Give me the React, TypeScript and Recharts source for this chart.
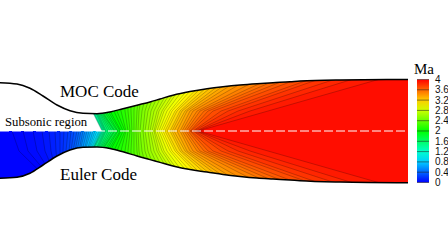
import { Area, ComposedChart, Line, XAxis, YAxis } from "recharts";

// wall profile, radius measured from the centerline
const wallX = [0, 17, 30, 43, 57, 70, 83, 97, 110, 123, 137, 150, 160, 173, 190, 207, 223, 240, 257, 273, 290, 300, 340, 408];
const upperWallR = [48.3, 47, 42.7, 35, 26, 20.3, 17.7, 17.3, 19, 22.3, 25.8, 29, 32, 35.8, 39.5, 42.3, 44.3, 46, 47.3, 48.3, 49.2, 50, 51, 51.5];
const lowerWallR = [47.3, 46.3, 42.3, 34, 25, 19, 16.3, 16, 17.5, 20.8, 25, 28.6, 31.4, 35, 38.6, 41, 43.4, 45.4, 47, 48, 49, 49.7, 51, 51.7];

// supersonic Mach contours: x on the axis, x at radius 20, x at radius 60
const fanLevels = [1.35, 1.4, 1.45, 1.5, 1.55, 1.6, 1.65, 1.7, 1.75, 1.8, 1.85, 1.9, 1.95, 2, 2.05, 2.1, 2.15, 2.2, 2.25, 2.3, 2.35, 2.4, 2.45, 2.5, 2.55, 2.6, 2.65, 2.7, 2.75, 2.8, 2.85, 2.9, 2.95, 3, 3.05, 3.1, 3.15, 3.2, 3.25, 3.3, 3.35, 3.4, 3.45, 3.5, 3.55, 3.6, 3.65, 3.7, 3.75, 3.8, 3.85, 3.9, 3.95];
const fanAxisX = [102, 103, 104, 105, 106, 108, 110, 112, 114, 115, 117, 118, 120, 121, 123, 125, 126, 128, 130, 132, 134, 136, 138, 140, 143, 145, 148, 150, 152, 154, 155, 157, 159, 161, 163, 165, 167, 170, 172, 174, 177, 180, 182, 184, 186, 188, 190, 191, 193, 194, 196, 197, 198];
const fanMidX = [92, 93, 95, 96, 97, 98, 99, 100, 101, 102, 104, 106, 108, 110, 114, 117, 121, 125, 128, 131, 134, 137, 139, 142, 145, 148, 151, 154, 157, 159, 162, 164, 167, 170, 172, 175, 177, 180, 182, 185, 187, 190, 193, 197, 200, 204, 208, 213, 221, 228, 238, 250, 268];
const fanOuterX = [92, 93, 95, 96, 97, 98, 99, 100, 101, 102, 104, 106, 108, 110, 114, 117, 121, 125, 128, 131, 136, 141, 146, 152, 158, 163, 169, 174, 179, 184, 188, 192, 197, 203, 208, 214, 219, 225, 231, 238, 245, 253, 263, 275, 287, 297, 308, 319, 333, 342, 360, 379, 408];

// subsonic contours, only the lower half shows them
const subLevels = [0.02, 0.04, 0.06, 0.09, 0.12, 0.15, 0.18, 0.21, 0.25, 0.29, 0.33, 0.38, 0.42, 0.47, 0.52, 0.57, 0.62, 0.67, 0.72, 0.77, 0.83, 0.89, 0.96, 1.05, 1.2];
const subAxisX = [12, 23, 33, 42, 49, 55, 60, 64, 68, 71, 74, 77, 79, 81, 83, 85, 87, 89, 91, 93, 95, 97, 99, 100, 101];
const subMidX = [19, 28, 37, 45, 51, 56, 60, 63, 66, 69, 71, 73, 75, 77, 79, 80, 82, 84, 85, 87, 88, 89, 90, 91, 92];
const subOuterX = [60, 62, 62, 62, 60, 60, 60, 63, 66, 69, 71, 73, 75, 77, 79, 80, 82, 84, 85, 87, 88, 89, 90, 91, 92];

const barTicks = [0, 0.4, 0.8, 1.2, 1.6, 2, 2.4, 2.8, 3.2, 3.6, 4];

const W = 448;
const H = 252;
const EXIT_X = 408;
const BAR_LEFT = 417;
const BAR_RIGHT = 429;

// tecplot style rainbow, 0 blue -> 4 red
function machColor(m: number) {
  const c = (v: number) => Math.round(Math.max(0, Math.min(1, v)) * 255);
  if (m < 1) return `rgb(0,${c(m)},255)`;
  if (m < 2) return `rgb(0,255,${c(2 - m)})`;
  if (m < 3) return `rgb(${c(m - 2)},255,0)`;
  return `rgb(255,${c(4 - m)},0)`;
}

// region downstream of one contour, painted in ascending Mach order
function bandPoints(axisX: number, midX: number, outerX: number, sign: number) {
  const span = (a: number, b: number) => (sign > 0 ? [a, b] : [-b, -a]);
  const tail = [{ x: EXIT_X, band: span(0, 60) }];
  if (midX < axisX) {
    return [{ x: midX, band: span(20, 60) }, { x: axisX, band: span(0, 60) }, ...tail];
  }
  return [
    { x: axisX, band: span(0, 0) },
    { x: midX, band: span(0, 20) },
    { x: outerX, band: span(0, 60) },
    ...tail,
  ];
}

function contourPoints(axisX: number, midX: number, outerX: number, sign: number) {
  return [
    { x: axisX, r: 0 },
    { x: midX, r: 20 * sign },
    { x: outerX, r: 60 * sign },
  ];
}

const upperMask = wallX.map((x, i) => ({ x, band: [upperWallR[i], 70] }));
const lowerMask = wallX.map((x, i) => ({ x, band: [-70, -lowerWallR[i]] }));
const upperWall = wallX.map((x, i) => ({ x, r: upperWallR[i] }));
const lowerWall = wallX.map((x, i) => ({ x, r: -lowerWallR[i] }));
const centerline = [{ x: 0, r: 0 }, { x: EXIT_X, r: 0 }];
const lowerBase = [{ x: 0, band: [-60, 0] }, { x: EXIT_X, band: [-60, 0] }];
const barFill = [{ x: BAR_LEFT, band: [0, 4] }, { x: BAR_RIGHT, band: [0, 4] }];

const serif = "'Liberation Serif', serif";
const contourStyle = { stroke: "#000", strokeWidth: 0.5, strokeOpacity: 0.45 };

function FillArea(key: string, data: any[], fill: string) {
  return (
    <Area key={key} data={data} dataKey="band" yAxisId="r" type="linear" fill={fill} fillOpacity={1} stroke="none" isAnimationActive={false} dot={false} activeDot={false} />
  );
}

function ContourLine(key: string, data: any[]) {
  return (
    <Line key={key} data={data} dataKey="r" yAxisId="r" type="linear" {...contourStyle} dot={false} activeDot={false} isAnimationActive={false} zIndex={110} />
  );
}

const BarTick = ({ y, payload }: any) => (
  <text x={435} y={y} dy={3.5} fontSize={10} fontFamily="'Liberation Sans', Arial, sans-serif" fill="#111">
    {payload.value}
  </text>
);

export default function App() {
  return (
    <div style={{ position: "absolute", left: 0, top: 0, width: W, height: H, background: "#fff" }}>
      <ComposedChart width={W} height={H} margin={{ top: 0, right: 0, bottom: 0, left: 0 }} data={centerline}>
        <defs>
          <linearGradient id="maGrad" x1="0" y1="1" x2="0" y2="0">
            {barTicks.map((t) => (
              <stop key={t} offset={t / 4} stopColor={machColor(t)} />
            ))}
          </linearGradient>
        </defs>
        <XAxis dataKey="x" type="number" domain={[0, W]} allowDataOverflow hide />
        <YAxis yAxisId="r" type="number" domain={[-121, 131]} allowDataOverflow hide />
        <YAxis
          yAxisId="ma"
          type="number"
          orientation="right"
          mirror
          domain={[-2.699, 7.087]}
          allowDataOverflow
          ticks={barTicks}
          interval={0}
          axisLine={false}
          tickLine={false}
          tick={<BarTick />}
        />

        {FillArea("lower-base", lowerBase, machColor(0.01))}
        {subLevels.map((m, i) =>
          FillArea(`sub-${i}`, bandPoints(subAxisX[i], subMidX[i], subOuterX[i], -1), machColor(m))
        )}
        {fanLevels.map((m, i) =>
          FillArea(`low-${i}`, bandPoints(fanAxisX[i], fanMidX[i], fanOuterX[i], -1), machColor(m))
        )}
        {fanLevels.map((m, i) =>
          FillArea(`up-${i}`, bandPoints(fanAxisX[i], fanMidX[i], fanOuterX[i], 1), machColor(m))
        )}

        {subLevels.map((_, i) => ContourLine(`subline-${i}`, contourPoints(subAxisX[i], subMidX[i], subOuterX[i], -1)))}
        {fanLevels.map((_, i) => ContourLine(`lowline-${i}`, contourPoints(fanAxisX[i], fanMidX[i], fanOuterX[i], -1)))}
        {fanLevels.map((_, i) => ContourLine(`upline-${i}`, contourPoints(fanAxisX[i], fanMidX[i], fanOuterX[i], 1)))}

        <Area data={upperMask} dataKey="band" yAxisId="r" type="monotone" fill="#fff" fillOpacity={1} stroke="none" isAnimationActive={false} dot={false} activeDot={false} zIndex={120} />
        <Area data={lowerMask} dataKey="band" yAxisId="r" type="monotone" fill="#fff" fillOpacity={1} stroke="none" isAnimationActive={false} dot={false} activeDot={false} zIndex={120} />

        <Line data={upperWall} dataKey="r" yAxisId="r" type="monotone" stroke="#000" strokeWidth={1.5} dot={false} activeDot={false} isAnimationActive={false} zIndex={130} />
        <Line data={lowerWall} dataKey="r" yAxisId="r" type="monotone" stroke="#000" strokeWidth={1.5} dot={false} activeDot={false} isAnimationActive={false} zIndex={130} />
        <Line data={centerline} dataKey="r" yAxisId="r" stroke="#fff" strokeWidth={1} strokeDasharray="9 3" dot={false} activeDot={false} isAnimationActive={false} zIndex={130} />

        <Area data={barFill} dataKey="band" yAxisId="ma" type="linear" fill="url(#maGrad)" fillOpacity={1} stroke="none" isAnimationActive={false} dot={false} activeDot={false} zIndex={120} />
        {barTicks.map((t) => (
          <Line
            key={`bar-${t}`}
            data={[{ x: BAR_LEFT, v: t }, { x: BAR_RIGHT, v: t }]}
            dataKey="v"
            yAxisId="ma"
            stroke="#222"
            strokeOpacity={0.55}
            strokeWidth={1}
            dot={false}
            activeDot={false}
            isAnimationActive={false}
            zIndex={130}
          />
        ))}
      </ComposedChart>

      {/* annotations sit above the white wall masks */}
      <svg width={W} height={H} style={{ position: "absolute", left: 0, top: 0, pointerEvents: "none" }}>
        <text x={60} y={97} fontFamily={serif} fontSize={17} fill="#000">MOC Code</text>
        <text x={60} y={180} fontFamily={serif} fontSize={17} fill="#000">Euler Code</text>
        <text x={5} y={126} fontFamily={serif} fontSize={12.7} fill="#000">Subsonic region</text>
        <text x={414} y={74} fontFamily={serif} fontSize={15} fill="#000">Ma</text>
      </svg>
    </div>
  );
}
